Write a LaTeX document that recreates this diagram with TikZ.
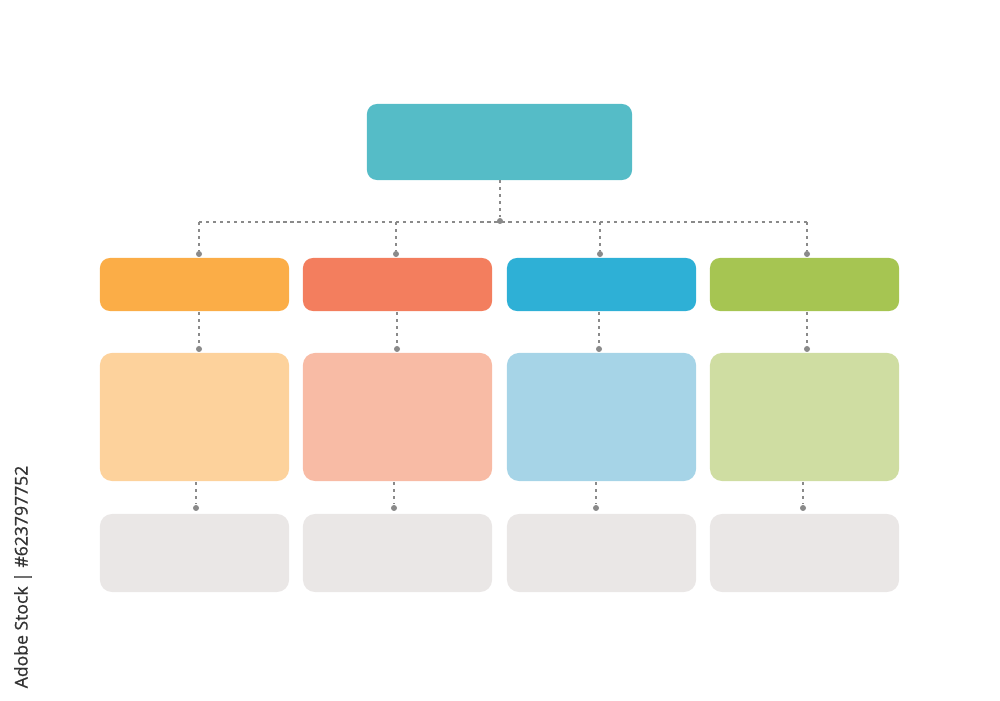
\documentclass[tikz,border=0pt]{standalone}
\usepackage{fontspec}
\newfontfamily\sidefont[FakeBold=0.8]{Open Sans}
\definecolor{topc}{HTML}{55BCC7}
\definecolor{o1}{HTML}{FBAD47}
\definecolor{r1}{HTML}{F37E5E}
\definecolor{b1}{HTML}{2EB0D6}
\definecolor{g1}{HTML}{A6C552}
\definecolor{o2}{HTML}{FDD29C}
\definecolor{r2}{HTML}{F8BBA5}
\definecolor{b2}{HTML}{A6D4E7}
\definecolor{g2}{HTML}{CFDDA2}
\definecolor{gr}{HTML}{EAE7E6}
\definecolor{conc}{HTML}{8A8A8A}
\begin{document}
\begin{tikzpicture}[x=0.01cm,y=-0.01cm,
  box/.style={inner sep=0pt, rounded corners=0.1cm, draw=none},
  topbox/.style={box, minimum width=2.65cm, minimum height=0.76cm},
  headbox/.style={box, minimum width=1.89cm, minimum height=0.53cm},
  bodybox/.style={box, minimum width=1.89cm, minimum height=1.28cm, rounded corners=0.12cm},
  footbox/.style={box, minimum width=1.89cm, minimum height=0.78cm, rounded corners=0.12cm, fill=gr},
  conn/.style={draw=conc, line width=0.55pt, dash pattern=on 0.9pt off 1.1pt},
  dot/.style={circle, fill=conc, inner sep=0pt, minimum size=0.06cm}]
\useasboundingbox (0,0) rectangle (1000,701);
% top
\node[topbox, fill=topc] (top) at (499.5,142) {};
% row 1
\node[headbox, fill=o1] (h1) at (194.5,284.5) {};
\node[headbox, fill=r1] (h2) at (397.5,284.5) {};
\node[headbox, fill=b1] (h3) at (601.5,284.5) {};
\node[headbox, fill=g1] (h4) at (804.5,284.5) {};
% row 2
\node[bodybox, fill=o2] (m1) at (194.5,417) {};
\node[bodybox, fill=r2] (m2) at (397.5,417) {};
\node[bodybox, fill=b2] (m3) at (601.5,417) {};
\node[bodybox, fill=g2] (m4) at (804.5,417) {};
% row 3
\node[footbox] (f1) at (194.5,553) {};
\node[footbox] (f2) at (397.5,553) {};
\node[footbox] (f3) at (601.5,553) {};
\node[footbox] (f4) at (804.5,553) {};
% connectors top
\coordinate (jl) at (199,222);
\coordinate (jr) at (807,222);
\coordinate (tb) at (500,180);
\node[dot] (d0) at (500,221) {};
\draw[conn] (tb) -- (d0);
\draw[conn] (jl) -- (jr);
\foreach \x/\n in {199/1,396/2,600/3,807/4}{
  \coordinate (ja\n) at (\x,222);
  \node[dot] (da\n) at (\x,254) {};
  \draw[conn] (ja\n) -- (da\n);
}
% row1 -> row2
\foreach \x/\n in {199/1,397/2,599/3,807/4}{
  \coordinate (s\n) at (\x,312);
  \node[dot] (db\n) at (\x,349) {};
  \draw[conn] (s\n) -- (db\n);
}
% row2 -> row3
\foreach \x/\n in {196/1,394/2,596/3,803/4}{
  \coordinate (t\n) at (\x,482);
  \node[dot] (dc\n) at (\x,508) {};
  \draw[conn] (t\n) -- (dc\n);
}
% side text
\node[rotate=90, text=black!80, font=\sidefont\fontsize{5.0pt}{6pt}\selectfont, inner sep=0pt] (side) at (23,577) {Adobe Stock | \#623797752};
\end{tikzpicture}
\end{document}
